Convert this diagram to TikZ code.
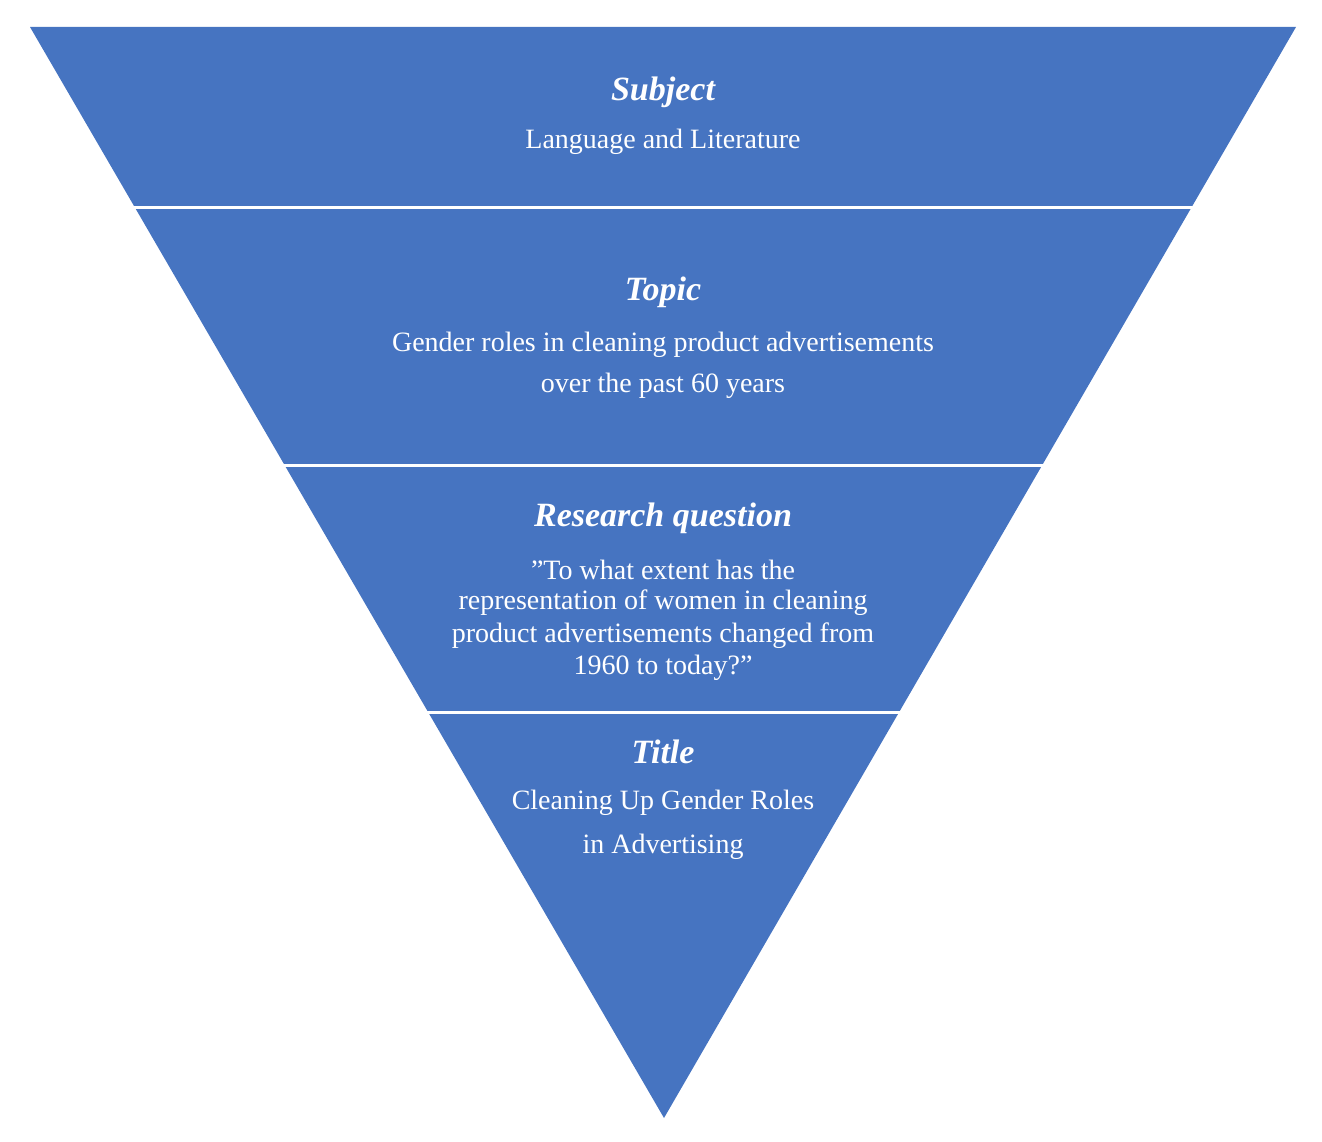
\documentclass[tikz,border=0pt]{standalone}
\usepackage{fontspec}
\setmainfont{Liberation Serif}
\definecolor{fun}{HTML}{4674C1}
\begin{document}
\begin{tikzpicture}[x=1pt,y=-1pt,
  hd/.style={text=white,font=\fontsize{34}{38}\selectfont\bfseries\itshape,inner sep=0pt},
  bd/.style={text=white,font=\fontsize{28}{33}\selectfont,inner sep=0pt,align=center}]
\useasboundingbox (0,0) rectangle (1322,1142);
\fill[fun] (30,27) -- (1296,27) -- (664,1118) -- cycle;
\foreach \y in {208,465,712} \draw[white,line width=3pt] (0,\y) -- (1322,\y);
\node[hd] (s) at (663,92) {Subject};
\node[bd] (s1) at (663,142) {Language and Literature};
\node[hd] (t) at (663,292) {Topic};
\node[bd,text depth=0pt] (t1) at (663,342) {Gender roles in cleaning product advertisements};
\node[bd] (t2) at (663,386) {over the past 60 years};
\node[hd] (r) at (663,518) {Research question};
\node[bd] (r1) at (663,570) {"To what extent has the};
\node[bd] (r2) at (663,603) {representation of women in cleaning};
\node[bd] (r3) at (663,636) {product advertisements changed from};
\node[bd] (r4) at (663,668) {1960 to today?"};
\node[hd] (ti) at (663,752) {Title};
\node[bd] (ti1) at (663,803) {Cleaning Up Gender Roles};
\node[bd] (ti2) at (663,847) {in Advertising};
\end{tikzpicture}
\end{document}
